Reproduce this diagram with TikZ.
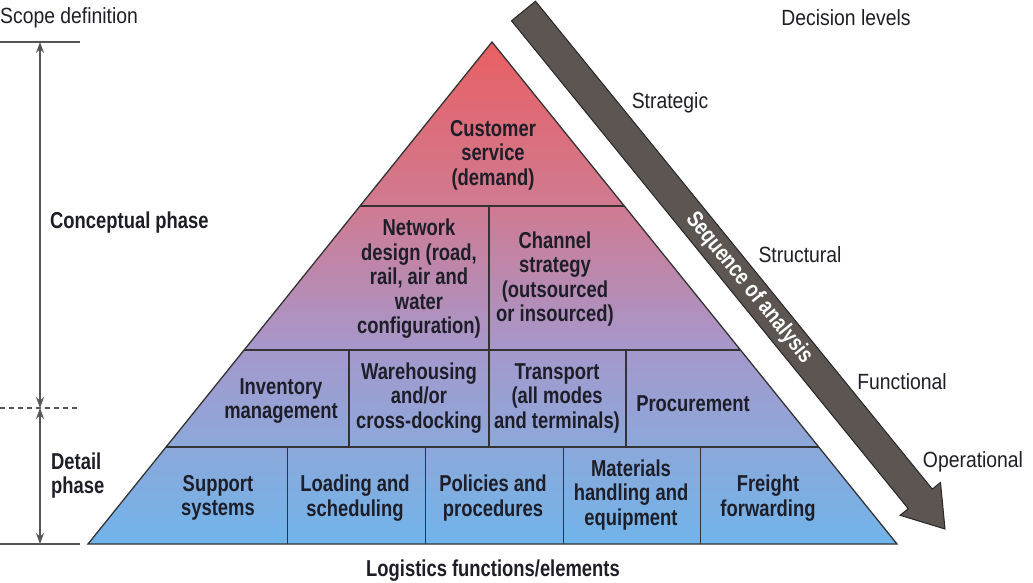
\documentclass[tikz,border=0pt]{standalone}
\usepackage{fontspec}
\newfontfamily\lab[FakeStretch=0.8]{Liberation Sans}
\newfontfamily\labr[FakeStretch=0.88]{Liberation Sans}
\usetikzlibrary{calc,arrows.meta}
\definecolor{cA}{RGB}{232,96,98}
\definecolor{c2}{RGB}{208,122,145}
\definecolor{c3}{RGB}{165,152,204}
\definecolor{c4}{RGB}{140,168,218}
\definecolor{cB}{RGB}{112,180,234}
\definecolor{arr}{RGB}{92,85,82}
\definecolor{txt}{RGB}{30,30,40}
\definecolor{dim}{RGB}{85,85,85}
\pgfdeclareverticalshading{pyr}{100bp}{color(0bp)=(cB); color(25bp)=(cB); color(34.7bp)=(c4); color(44.3bp)=(c3); color(58.7bp)=(c2); color(75bp)=(cA); color(100bp)=(cA)}
\tikzset{
  celltext/.style={font=\lab\bfseries\fontsize{23}{24.5}\selectfont, align=center, text=txt, inner sep=0pt},
  sidetext/.style={font=\labr\fontsize{22}{24.5}\selectfont, text=txt, inner sep=0pt},
  sidebold/.style={font=\lab\bfseries\fontsize{23}{24}\selectfont, text=txt, inner sep=0pt, align=left},
  divline/.style={draw=black!80, line width=1.3pt},
  dimline/.style={draw=dim, line width=1.2pt},
  dimarrow/.style={dimline, {Stealth[length=11pt,width=8pt]}-{Stealth[length=11pt,width=8pt]}},
}
\begin{document}
\begin{tikzpicture}[x=1pt,y=-1pt]
\useasboundingbox (0,0) rectangle (1033,583);
\fill[white] (0,0) rectangle (1033,583);
% pyramid corners
\coordinate (A) at (492,42);
\coordinate (BL) at (88,544);
\coordinate (BR) at (897,544);
\coordinate (L1) at ($(A)!0.3267!(BL)$);
\coordinate (R1) at ($(A)!0.3267!(BR)$);
\coordinate (L2) at ($(A)!0.6135!(BL)$);
\coordinate (R2) at ($(A)!0.6135!(BR)$);
\coordinate (L3) at ($(A)!0.8068!(BL)$);
\coordinate (R3) at ($(A)!0.8068!(BR)$);
% arrow geometry
\coordinate (P1) at (511.5,20.8);
\coordinate (P2) at (535.5,1.2);
\coordinate (P3) at (932.3,489.1);
\coordinate (P4) at (940.5,482.5);
\coordinate (P5) at (945,529);
\coordinate (P6) at (900.1,515.3);
\coordinate (P7) at (908.3,508.7);
% shadows
\foreach \s in {2,4,6,8,10}{
  \fill[black,opacity=0.045,shift={(\s*0.4,\s*0.9)}] (A) -- (BR) -- (BL) -- cycle;
  \fill[black,opacity=0.045,shift={(-\s*0.3,\s*0.9)}] (P1) -- (P2) -- (P3) -- (P4) -- (P5) -- (P6) -- (P7) -- cycle;
}
% pyramid
\path[shading=pyr] (A) -- (BR) -- (BL) -- cycle;
\draw[divline] (L1) -- (R1);
\draw[divline] (L2) -- (R2);
\draw[divline] (L3) -- (R3);
\draw[divline] (489,206) -- (489,447);
\draw[divline] (349,350) -- (349,447);
\draw[divline] (626,350) -- (626,447);
\draw[divline] (287.5,447) -- (287.5,544);
\draw[divline] (425.5,447) -- (425.5,544);
\draw[divline] (563.5,447) -- (563.5,544);
\draw[divline] (700.5,447) -- (700.5,544);
\draw[divline, line join=miter] (A) -- (BR) -- (BL) -- cycle;
% arrow
\filldraw[fill=arr, draw=black!85, line width=1pt, line join=miter] (P1) -- (P2) -- (P3) -- (P4) -- (P5) -- (P6) -- (P7) -- cycle;
\node[font=\lab\bfseries\fontsize{23}{24}\selectfont, text=white, rotate=-50.9, inner sep=0pt] (seq) at (749,288) {Sequence of analysis};
% cell texts
\node[celltext] (cs) at (493,155) {Customer\\service\\(demand)};
\node[celltext] (nd) at (419,279) {Network\\design (road,\\rail, air and\\water\\configuration)};
\node[celltext] (ch) at (555,279) {Channel\\strategy\\(outsourced\\or insourced)};
\node[celltext] (im) at (281,401) {Inventory\\management};
\node[celltext] (wh) at (419,398) {Warehousing\\and/or\\cross-docking};
\node[celltext] (tr) at (557,398) {Transport\\(all modes\\and terminals)};
\node[celltext] (pr) at (693,404) {Procurement};
\node[celltext] (ss) at (218,498) {Support\\systems};
\node[celltext] (ls) at (355,498) {Loading and\\scheduling};
\node[celltext] (pp) at (493,498) {Policies and\\procedures};
\node[celltext] (mh) at (631,495) {Materials\\handling and\\equipment};
\node[celltext] (ff) at (768,498) {Freight\\forwarding};
% left scope dimension
\coordinate (t0) at (0,42);
\coordinate (t1) at (80,42);
\coordinate (m0) at (0,408);
\coordinate (m1) at (80,408);
\coordinate (b0) at (0,544);
\coordinate (b1) at (80,544);
\coordinate (dTop) at (40,42);
\coordinate (dMid) at (40,408);
\coordinate (dBot) at (40,544);
\draw[dimline] (t0) -- (t1);
\draw[dimline, dashed, dash pattern=on 5pt off 4pt] (m0) -- (m1);
\draw[dimline] (b0) -- (b1);
\draw[dimarrow] (dTop) -- (dMid);
\draw[dimarrow] (dMid) -- (dBot);
% side labels
\node[sidetext, anchor=west] (scope) at (0,18) {Scope definition};
\node[sidetext] (dl) at (846,18) {Decision levels};
\node[sidebold, anchor=west] (cp) at (50,223) {Conceptual phase};
\node[sidebold, anchor=west] (dp) at (51,476) {Detail\\phase};
\node[sidebold] (lf) at (493,571) {Logistics functions/elements};
\node[sidetext] (st) at (670,103) {Strategic};
\node[sidetext] (su) at (800,255) {Structural};
\node[sidetext] (fu) at (902,382) {Functional};
\node[sidetext] (op) at (973,462) {Operational};
\end{tikzpicture}
\end{document}
